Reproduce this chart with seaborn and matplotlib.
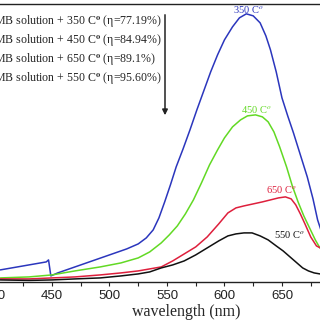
"""
Widma emisji MB po obróbce w różnych temperaturach — odtworzenie wykresu.
"""

import pandas as pd
import matplotlib
import matplotlib.pyplot as plt
import seaborn as sns

matplotlib.use('Agg')

# --- dane (jednostki umowne) ---
wl_350 = [405, 415, 425, 435, 445, 447, 449, 455, 465, 475, 485, 495, 505, 515, 525, 532,
          538, 543, 548, 553, 558, 564, 570, 576, 582, 588, 594, 600, 607, 613, 619, 625,
          631, 636, 640, 645, 650, 655, 660, 666, 672, 677, 681, 685, 690]
int_350 = [12, 14, 16, 18, 20, 22, 6, 9, 13, 17, 21, 25, 29, 33, 38, 44,
           52, 64, 80, 97, 115, 133, 152, 172, 191, 210, 227, 242, 255, 264, 268, 266,
           259, 246, 232, 210, 184, 166, 149, 127, 105, 83, 62, 48, 44]

wl_450 = [405, 430, 450, 470, 492, 510, 525, 535, 545, 552, 559, 566, 573, 580, 587, 594,
          600, 607, 614, 620, 627, 633, 638, 643, 648, 654, 659, 664, 669, 674, 679, 683, 690]
int_450 = [4, 5, 7, 11, 15, 19, 24, 30, 39, 47, 56, 68, 82, 99, 117, 132,
           144, 155, 162, 166, 167, 165, 160, 150, 135, 115, 96, 80, 66, 54, 42, 34, 32]

wl_650 = [405, 430, 450, 470, 492, 510, 525, 535, 545, 555, 565, 575, 585, 595, 603, 610,
          617, 625, 633, 640, 647, 653, 658, 662, 666, 670, 675, 680, 685, 690]
int_650 = [3, 3, 4, 5, 7, 9, 11, 13, 15, 21, 28, 35, 45, 58, 69, 74,
           76, 78, 80, 82, 84, 85, 83, 77, 68, 58, 45, 36, 33, 33]

wl_550 = [405, 430, 450, 470, 492, 510, 525, 535, 545, 555, 565, 575, 585, 595, 603, 610,
          617, 624, 631, 638, 645, 651, 657, 663, 668, 673, 678, 683, 690]
int_550 = [2, 1.5, 2, 3, 4, 6, 8, 10, 14, 17, 21, 27, 34, 41, 46, 48,
           49, 49, 46, 42, 36, 31, 25, 19, 14, 11, 9, 8, 9]

temps = ['350', '450', '650', '550']
efficiency = ['77.19', '84.94', '89.1', '95.60']
colors = ['#2b36bd', '#62d924', '#de1f3c', '#111111']

df = pd.concat([
    pd.DataFrame({'wavelength': wl_350, 'intensity': int_350, 'temp': '350'}),
    pd.DataFrame({'wavelength': wl_450, 'intensity': int_450, 'temp': '450'}),
    pd.DataFrame({'wavelength': wl_650, 'intensity': int_650, 'temp': '650'}),
    pd.DataFrame({'wavelength': wl_550, 'intensity': int_550, 'temp': '550'}),
], ignore_index=True)

sns.set_style('ticks')
plt.rcParams['font.family'] = ['Liberation Serif', 'DejaVu Serif']
plt.rcParams['mathtext.fontset'] = 'stix'

fig = plt.figure(figsize=(3.2, 3.2), dpi=100)
ax = fig.add_axes([-0.0172, 0.119, 1.078, 0.869])

sns.lineplot(data=df, x='wavelength', y='intensity', hue='temp', hue_order=temps,
             palette=dict(zip(temps, colors)), linewidth=1.1, legend=False,
             sort=False, ax=ax)

ax.set_xlim(400, 700)
ax.set_ylim(0, 278)
ax.set_xticks([400, 450, 500, 550, 600, 650, 700])
ax.set_xticks([425, 475, 525, 575, 625, 675], minor=True)
ax.set_yticks([])
ax.tick_params(axis='x', which='both', direction='out', length=3, width=0.8,
               pad=3, labelsize=9.5, colors='#222222')
for lbl in ax.get_xticklabels():
    lbl.set_family('Liberation Sans')
for s in ax.spines.values():
    s.set_linewidth(1.0)
    s.set_color('#222222')

ax.set_ylabel('')
ax.set_xlabel('wavelength (nm)', fontsize=11.5)
ax.xaxis.set_label_coords(0.555, -0.08)

# opisy w lewym górnym rogu (wyrównane do lewej, ucięte przy krawędzi jak w oryginale)
px = lambda x, y: (x / 320, 1 - y / 320)
for i, (t, eta) in enumerate(zip(temps, efficiency)):
    fig.text(*px(-6, 21 + i * 19), f'MB solution + {t} C$^{{\\mathbf{{o}}}}$ (η={eta}%)',
             ha='left', va='center', fontsize=8.6)

fig.add_artist(matplotlib.patches.FancyArrowPatch(
    px(165, 12), px(165, 118), transform=fig.transFigure,
    arrowstyle='-|>', mutation_scale=8, lw=1.1, color='#222222'))

# etykiety krzywych
label_pos = [(248, 10), (256, 110), (281, 190), (289, 235)]
for (x, y), t, c in zip(label_pos, temps, colors):
    fig.text(*px(x, y), f'{t} C$^{{o}}$', ha='center', va='center', fontsize=7.5, color=c)

plt.savefig('out.png', dpi=100)
plt.close()
